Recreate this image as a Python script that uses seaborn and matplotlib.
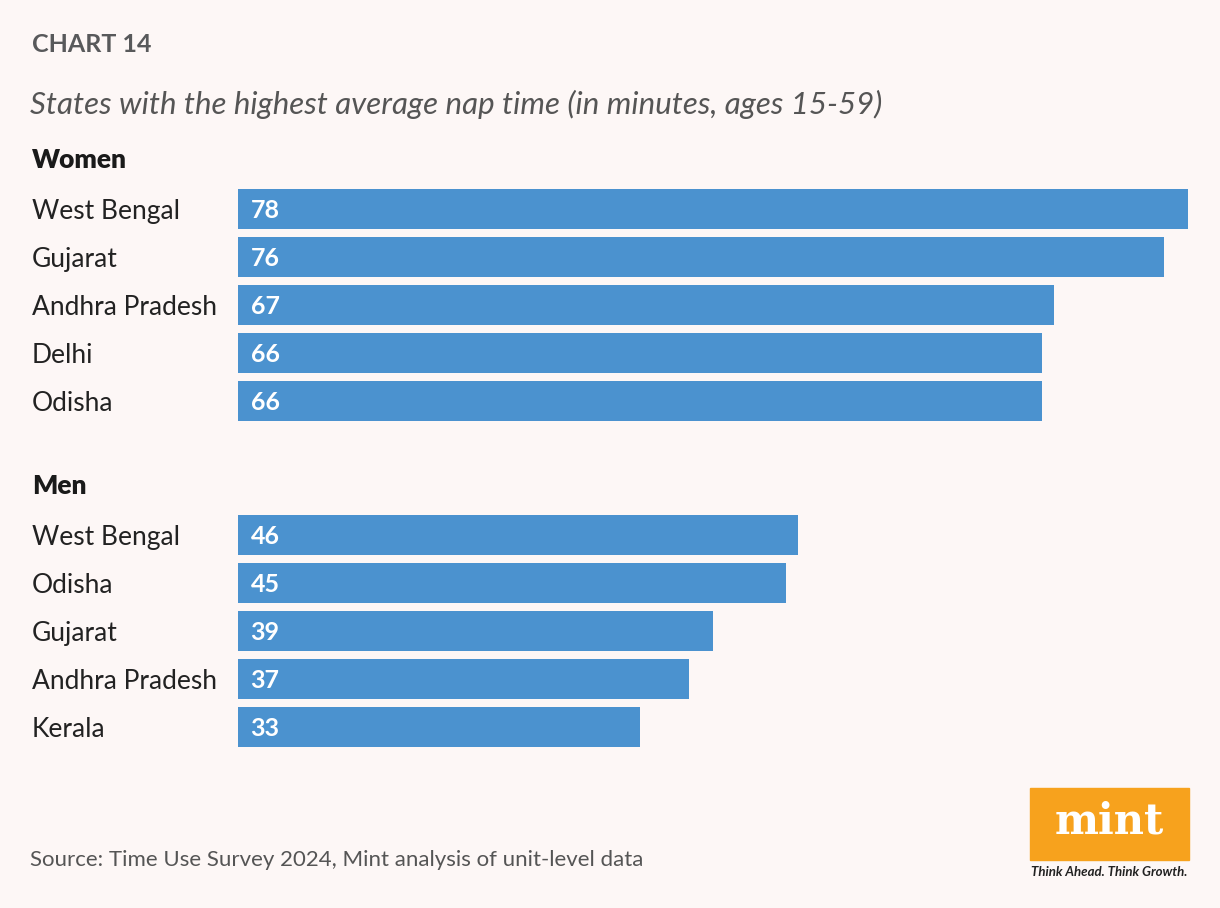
import matplotlib
matplotlib.use("Agg")
import matplotlib.pyplot as plt
import seaborn as sns
import pandas as pd
from matplotlib.patches import Rectangle

# ---- data ----
women_states = ["West Bengal", "Gujarat", "Andhra Pradesh", "Delhi", "Odisha"]
women_values = [78, 76, 67, 66, 66]
men_states = ["West Bengal", "Odisha", "Gujarat", "Andhra Pradesh", "Kerala"]
men_values = [46, 45, 39, 37, 33]

title = "CHART 14"
subtitle = "States with the highest average nap time (in minutes, ages 15-59)"
source = "Source: Time Use Survey 2024, Mint analysis of unit-level data"

BG = "#fdf7f6"
BAR = "#4b92cf"
FONT = "Lato"

sns.set_theme(style="white")
plt.rcParams["font.family"] = [FONT, "DejaVu Sans"]

W, H = 1220, 908
fig = plt.figure(figsize=(W / 100, H / 100), dpi=100, facecolor=BG)

def px_axes(x0, y0, x1, y1):
    return fig.add_axes([x0 / W, 1 - y1 / H, (x1 - x0) / W, (y1 - y0) / H])

xmax = 78

def draw_panel(ax, states, values):
    df = pd.DataFrame({"state": states, "value": values})
    sns.barplot(data=df, x="value", y="state", orient="h", color=BAR,
                saturation=1, width=40 / 48, linewidth=0, ax=ax)
    ax.set_facecolor(BG)
    ax.set_xlim(0, xmax)
    ax.set_ylim(len(states) - 0.5, -0.5)
    ax.set_xlabel("")
    ax.set_ylabel("")
    ax.set_xticks([])
    for s in ax.spines.values():
        s.set_visible(False)
    ax.tick_params(axis="y", length=0, pad=(238 - 32) * 0.72)
    for lab in ax.get_yticklabels():
        lab.set_horizontalalignment("left")
        lab.set_fontsize(19)
        lab.set_color("#222222")
        lab.set_fontfamily([FONT, "DejaVu Sans"])
    for i, v in enumerate(values):
        ax.annotate(str(v), xy=(0, i), xytext=(9, 0), textcoords="offset points",
                    ha="left", va="center_baseline", color="white",
                    fontsize=18, fontweight="bold")

ax_w = px_axes(238, 185, 1188, 425)
draw_panel(ax_w, women_states, women_values)
ax_m = px_axes(238, 511, 1188, 751)
draw_panel(ax_m, men_states, men_values)

fig.text(32 / W, 1 - 45 / H, title, fontsize=18, fontweight="bold",
         color="#58595b", va="center", ha="left")
fig.text(30 / W, 1 - 104 / H, subtitle, fontsize=22.5, fontstyle="italic",
         color="#555555", va="center", ha="left")
fig.text(32 / W, 1 - 160 / H, "Women", fontsize=19, fontweight="heavy",
         color="#1a1a1a", va="center", ha="left")
fig.text(32 / W, 1 - 486 / H, "Men", fontsize=19, fontweight="heavy",
         color="#1a1a1a", va="center", ha="left")
fig.text(30 / W, 1 - 860 / H, source, fontsize=16, fontweight="normal",
         color="#555555", va="center", ha="left")

# logo
fig.patches.append(Rectangle((1030 / W, 1 - 860 / H), 159 / W, 72 / H,
                             transform=fig.transFigure, color="#f7a21d", zorder=1))
fig.text(1109 / W, 1 - 822 / H, "mint", fontsize=30, fontweight="bold",
         family=["DejaVu Serif"], color="white", ha="center", va="center", zorder=2)
fig.text(1109 / W, 1 - 872 / H, "Think Ahead. Think Growth.", fontsize=9.5,
         fontweight="bold", fontstyle="italic", color="#222222",
         ha="center", va="center")

fig.savefig("out.png", dpi=100, facecolor=BG)
